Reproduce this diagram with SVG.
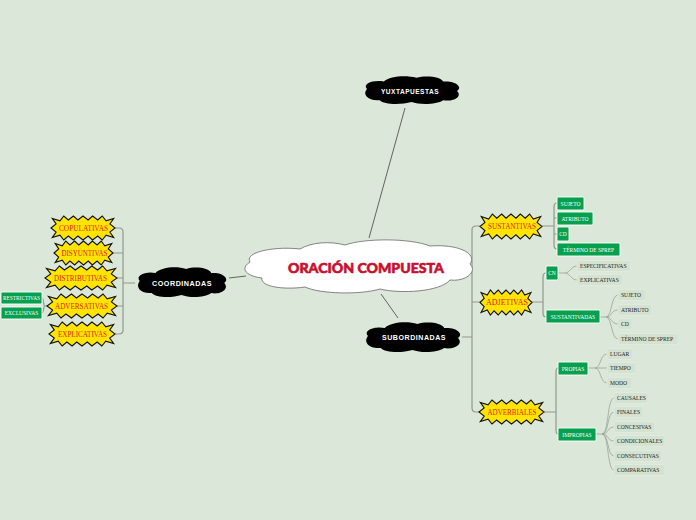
<svg xmlns="http://www.w3.org/2000/svg" xmlns:xlink="http://www.w3.org/1999/xlink" width="696" height="520" viewBox="0 0 696 520">
<style>
.star{fill:#ffe400;stroke:#111;stroke-width:1.1;stroke-linejoin:miter;vector-effect:non-scaling-stroke}
.cloudb{fill:#000}
.stxt{font-family:"Liberation Serif",serif;font-size:8px;fill:#e3202a;text-anchor:middle}
.ctxt{font-family:"Liberation Sans",sans-serif;font-size:8px;font-weight:bold;fill:#fff;text-anchor:middle;letter-spacing:0.6px}
.gbox{fill:#07a04e;stroke:#fff;stroke-width:0.9}
.gtxt{font-family:"Liberation Serif",serif;font-size:5.5px;fill:#fff;text-anchor:middle}
.lbox{fill:#d4e2d1;stroke:#e2ece0;stroke-width:0.8}
.ltxt{font-family:"Liberation Serif",serif;font-size:5.6px;fill:#222}
.main{fill:none;stroke:#555;stroke-width:0.9}
.br{fill:none;stroke:#8f9a8d;stroke-width:1.2}
.fan{fill:none;stroke:#9aa597;stroke-width:0.8}
</style>
<defs>
<polygon id="star" class="star" points="0,15 8,10 2,3 14,6 20,0 27,5 35,0 42,5 50,0 58,5 65,0 73,5 80,0 86,6 98,3 92,10 100,15 92,20 98,27 86,24 80,30 73,25 65,30 58,25 50,30 42,25 35,30 27,25 20,30 14,24 2,27 8,20"/>
<path id="cloud" class="cloudb" d="M5,14 C0,8 12,4 22,6 C28,0 45,-1 55,2 C65,-1 80,1 82,6 C95,5 102,12 96,16 C102,22 92,28 82,26 C75,31 58,31 50,28 C40,31 22,31 18,26 C6,27 0,20 5,14 Z"/>
</defs>
<rect x="0" y="0" width="696" height="520" fill="#dbe7d8"/>

<g id="connectors">
<path class="main" d="M405,108 L369,238"/>
<path class="main" d="M229,278 L246,276"/>
<path class="main" d="M381,294 L398,318"/>
<path class="br" d="M135,283 H123 M119,228 Q123,228 123,232 V330 Q123,334 119,334 H115 M115,228 H119 M123,253 H113 M123,278 H117 M123,306 H117"/>
<path class="br" d="M47,306 H45 C43,306 44,298 42,298 M45,306 C43,306 44,313 42,313"/>
<path class="br" d="M462,337 H472 M480,226 H476 Q472,226 472,230 V408 Q472,412 476,412 H479 M472,302 H480"/>
<path class="br" d="M542,226 H554 M557,203 Q554,203 554,207 V245 Q554,249 557,249 M554,218 H557 M554,234 H557"/>
<path class="br" d="M532,302 H543 M546,273 Q543,273 543,277 V313 Q543,317 546,317"/>
<path class="br" d="M544,412 H556 M558,368 Q556,368 556,372 V430 Q556,434 558,434"/>
<path class="fan" d="M558,273 H565 C570,273 571,266 577,266 M565,273 C570,273 571,280 577,280"/>
<path class="fan" d="M600,317 H606 M606,317 C612,317 611,295 618,295 M606,317 C612,317 611,310 618,310 M606,317 C612,317 611,324 618,324 M606,317 C612,317 611,339 618,339"/>
<path class="fan" d="M588,368 H595 M595,368 C601,368 600,354 607,354 M595,368 H607 M595,368 C601,368 600,383 607,383"/>
<path class="fan" d="M596,434 H602 M602,434 C609,434 607,398 614,398 M602,434 C609,434 607,412 614,412 M602,434 C609,434 607,427 614,427 M602,434 C609,434 607,441 614,441 M602,434 C609,434 607,456 614,456 M602,434 C609,434 607,470 614,470"/>
</g>

<g id="oracion-compuesta">
<path d="M250,262 C244,252 275,246 300,249 C312,242 330,241 345,245 C365,238 410,238 430,246 C455,244 478,252 470,264 C478,272 465,282 450,280 C440,292 400,294 380,289 C360,295 320,294 305,287 C285,290 260,287 262,278 C245,276 240,268 250,262 Z" fill="#fff" stroke="#777" stroke-width="0.9"/>
<text x="366" y="273" font-family="Lato, 'Liberation Sans', sans-serif" font-size="14" font-weight="900" fill="#c8102e" stroke="#c8102e" stroke-width="0.6" stroke-linejoin="round" text-anchor="middle" textLength="156" lengthAdjust="spacingAndGlyphs">ORACIÓN COMPUESTA</text>
</g>

<g id="yuxtapuestas">
<use xlink:href="#cloud" transform="translate(362,76) scale(0.99,0.933)"/>
<text class="ctxt" x="410" y="94" textLength="58" lengthAdjust="spacingAndGlyphs">YUXTAPUESTAS</text>
</g>
<g id="coordinadas">
<use xlink:href="#cloud" transform="translate(135,267) scale(0.93,1)"/>
<text class="ctxt" x="182" y="286" textLength="60" lengthAdjust="spacingAndGlyphs">COORDINADAS</text>
</g>
<g id="subordinadas">
<use xlink:href="#cloud" transform="translate(363,322) scale(0.99,1)"/>
<text class="ctxt" x="414" y="340" textLength="64" lengthAdjust="spacingAndGlyphs">SUBORDINADAS</text>
</g>

<g id="copulativas"><use xlink:href="#star" transform="translate(51,216) scale(0.64,0.8)"/><text class="stxt" x="83.5" y="230.8" textLength="49" lengthAdjust="spacingAndGlyphs">COPULATIVAS</text></g>
<g id="disyuntivas"><use xlink:href="#star" transform="translate(54,241) scale(0.59,0.8)"/><text class="stxt" x="84.5" y="255.8" textLength="46" lengthAdjust="spacingAndGlyphs">DISYUNTIVAS</text></g>
<g id="distributivas"><use xlink:href="#star" transform="translate(45,266) scale(0.72,0.8)"/><text class="stxt" x="80.5" y="280.8" textLength="53" lengthAdjust="spacingAndGlyphs">DISTRIBUTIVAS</text></g>
<g id="adversativas"><use xlink:href="#star" transform="translate(47,294) scale(0.70,0.8)"/><text class="stxt" x="81.5" y="308.8" textLength="53" lengthAdjust="spacingAndGlyphs">ADVERSATIVAS</text></g>
<g id="explicativas-c"><use xlink:href="#star" transform="translate(49,322) scale(0.66,0.8)"/><text class="stxt" x="82.5" y="336.8" textLength="49" lengthAdjust="spacingAndGlyphs">EXPLICATIVAS</text></g>

<g id="restrictivas"><rect class="gbox" x="1" y="292" width="41" height="12" rx="1.5"/><text class="gtxt" x="21.5" y="300" font-size="5" textLength="37" lengthAdjust="spacingAndGlyphs">RESTRICTIVAS</text></g>
<g id="exclusivas"><rect class="gbox" x="1" y="307" width="41" height="12" rx="1.5"/><text class="gtxt" x="21.5" y="315" font-size="5">EXCLUSIVAS</text></g>

<g id="sustantivas"><use xlink:href="#star" transform="translate(480,214) scale(0.62,0.833)"/><text class="stxt" x="512" y="228.8" textLength="48" lengthAdjust="spacingAndGlyphs">SUSTANTIVAS</text></g>
<g id="adjetivas"><use xlink:href="#star" transform="translate(480,290) scale(0.52,0.833)"/><text class="stxt" x="507" y="304.8" textLength="42" lengthAdjust="spacingAndGlyphs">ADJETIVAS</text></g>
<g id="adverbiales"><use xlink:href="#star" transform="translate(479,400) scale(0.65,0.8)"/><text class="stxt" x="512" y="414.8" textLength="49" lengthAdjust="spacingAndGlyphs">ADVERBIALES</text></g>

<g id="sujeto-1"><rect class="gbox" x="557" y="197" width="27" height="13" rx="1.5"/><text class="gtxt" x="570.5" y="205.5">SUJETO</text></g>
<g id="atributo-1"><rect class="gbox" x="557" y="212" width="36" height="13" rx="1.5"/><text class="gtxt" x="575" y="220.5">ATRIBUTO</text></g>
<g id="cd-1"><rect class="gbox" x="557" y="227" width="12" height="14" rx="1.5"/><text class="gtxt" x="563" y="236">CD</text></g>
<g id="termino-1"><rect class="gbox" x="557" y="243" width="63" height="13" rx="1.5"/><text class="gtxt" x="588.5" y="251.5">TÉRMINO DE SPREP</text></g>
<g id="cn"><rect class="gbox" x="546" y="266" width="12" height="14" rx="1.5"/><text class="gtxt" x="552" y="275">CN</text></g>
<g id="sustantivadas"><rect class="gbox" x="546" y="310" width="54" height="13" rx="1.5"/><text class="gtxt" x="573" y="318.5">SUSTANTIVADAS</text></g>
<g id="propias"><rect class="gbox" x="558" y="362" width="30" height="13" rx="1.5"/><text class="gtxt" x="573" y="370.5">PROPIAS</text></g>
<g id="impropias"><rect class="gbox" x="558" y="428" width="38" height="13" rx="1.5"/><text class="gtxt" x="577" y="436.5">IMPROPIAS</text></g>

<g id="especificativas"><rect class="lbox" x="577" y="260.5" width="54" height="11" rx="2"/><text class="ltxt" x="580" y="268">ESPECIFICATIVAS</text></g>
<g id="explicativas-a"><rect class="lbox" x="577" y="274.5" width="46" height="11" rx="2"/><text class="ltxt" x="580" y="282">EXPLICATIVAS</text></g>
<g id="sujeto-2"><rect class="lbox" x="618" y="289.5" width="28" height="11" rx="2"/><text class="ltxt" x="621" y="297">SUJETO</text></g>
<g id="atributo-2"><rect class="lbox" x="618" y="304.5" width="34" height="11" rx="2"/><text class="ltxt" x="621" y="312">ATRIBUTO</text></g>
<g id="cd-2"><rect class="lbox" x="618" y="318.5" width="14" height="11" rx="2"/><text class="ltxt" x="621" y="326">CD</text></g>
<g id="termino-2"><rect class="lbox" x="618" y="333.5" width="60" height="11" rx="2"/><text class="ltxt" x="621" y="341">TÉRMINO DE SPREP</text></g>
<g id="lugar"><rect class="lbox" x="607" y="348.5" width="26" height="11" rx="2"/><text class="ltxt" x="610" y="356">LUGAR</text></g>
<g id="tiempo"><rect class="lbox" x="607" y="362.5" width="29" height="11" rx="2"/><text class="ltxt" x="610" y="370">TIEMPO</text></g>
<g id="modo"><rect class="lbox" x="607" y="377.5" width="25" height="11" rx="2"/><text class="ltxt" x="610" y="385">MODO</text></g>
<g id="causales"><rect class="lbox" x="614" y="392.5" width="34" height="11" rx="2"/><text class="ltxt" x="617" y="400">CAUSALES</text></g>
<g id="finales"><rect class="lbox" x="614" y="406.5" width="29" height="11" rx="2"/><text class="ltxt" x="617" y="414">FINALES</text></g>
<g id="concesivas"><rect class="lbox" x="614" y="421.5" width="41" height="11" rx="2"/><text class="ltxt" x="617" y="429">CONCESIVAS</text></g>
<g id="condicionales"><rect class="lbox" x="614" y="435.5" width="51" height="11" rx="2"/><text class="ltxt" x="617" y="443">CONDICIONALES</text></g>
<g id="consecutivas"><rect class="lbox" x="614" y="450.5" width="48" height="11" rx="2"/><text class="ltxt" x="617" y="458">CONSECUTIVAS</text></g>
<g id="comparativas"><rect class="lbox" x="614" y="464.5" width="51" height="11" rx="2"/><text class="ltxt" x="617" y="472">COMPARATIVAS</text></g>
</svg>
